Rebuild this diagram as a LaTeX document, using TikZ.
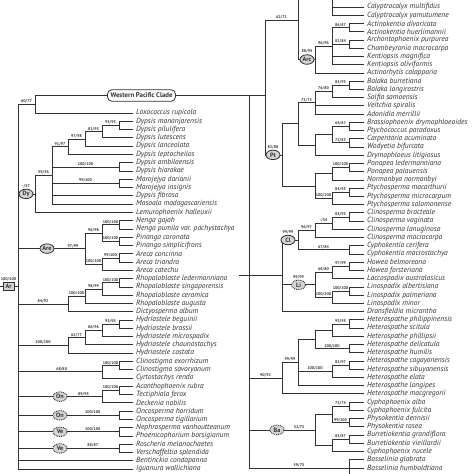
\documentclass[tikz,border=0pt]{standalone}
\usepackage{fontspec}
\setmainfont{PT Sans}
\usepackage{xcolor}
\usepackage{tikz}
\usetikzlibrary{shapes.geometric}
\definecolor{treegray}{RGB}{50,50,50}
\definecolor{cladegray}{RGB}{212,212,212}

\begin{document}
\begin{tikzpicture}[
    x=1pt, y=-1pt,
    branch/.style={draw=treegray, line width=0.8pt},
    taxon/.style={anchor=west, inner xsep=3pt, inner ysep=0.5pt, text=treegray,
                  font=\fontsize{7.5}{8}\selectfont\itshape},
    bs/.style={anchor=south, inner sep=0.6pt, text=treegray,
               font=\fontsize{4}{4}\selectfont\bfseries},
    clade/.style={ellipse, draw=treegray, fill=cladegray, line width=0.8pt,
                  inner sep=0.4pt, minimum width=14pt, minimum height=9.5pt,
                  text=treegray, font=\fontsize{6.2}{6}\selectfont\bfseries},
    cladedot/.style={clade, densely dotted, line width=1pt},
    arbox/.style={rectangle, draw=treegray, fill=cladegray, line width=0.8pt,
                  inner sep=1pt, minimum width=11pt, minimum height=8pt,
                  text=treegray, font=\fontsize{6.2}{6}\selectfont\bfseries},
    grouplbl/.style={rectangle, rounded corners=4.5pt, draw=treegray, fill=white,
                  line width=0.8pt, minimum height=10pt, inner xsep=3pt,
                  text=treegray, font=\fontsize{6.8}{7}\selectfont\bfseries}
]
\useasboundingbox (0,0) rectangle (474,474);
\clip (0,0) rectangle (474,474);
\fill[white] (0,0) rectangle (474,474);

% ---- left panel: taxa
\node[taxon] (loxo)   at (133,113.0) {Loxococcus rupicola};
\node[taxon] (dmana)  at (133,121.3) {Dypsis mananjarensis};
\node[taxon] (dpilu)  at (133,129.6) {Dypsis pilulifera};
\node[taxon] (dlute)  at (133,137.8) {Dypsis lutescens};
\node[taxon] (dlanc)  at (133,146.1) {Dypsis lanceolata};
\node[taxon] (dlept)  at (133,154.4) {Dypsis leptocheilos};
\node[taxon] (dambi)  at (133,162.7) {Dypsis ambilaensis};
\node[taxon] (dhiar)  at (133,171.0) {Dypsis hiarakae};
\node[taxon] (mdari)  at (133,179.2) {Marojejya darianii};
\node[taxon] (minsi)  at (133,187.5) {Marojejya insignis};
\node[taxon] (dfibr)  at (133,195.8) {Dypsis fibrosa};
\node[taxon] (masoa)  at (133,204.1) {Masoala madagascariensis};
\node[taxon] (lemur)  at (133,212.4) {Lemurophoenix halleuxii};
\node[taxon] (ngaja)  at (133,220.6) {Nenga gajah};
\node[taxon] (npumi)  at (133,228.9) {Nenga pumila var. pachystachya};
\node[taxon] (pcoro)  at (133,237.2) {Pinanga coronata};
\node[taxon] (psimp)  at (133,245.5) {Pinanga simplicifrons};
\node[taxon] (aconc)  at (133,253.8) {Areca concinna};
\node[taxon] (atria)  at (133,262.0) {Areca triandra};
\node[taxon] (acate)  at (133,270.3) {Areca catechu};
\node[taxon] (rlede)  at (133,278.6) {Rhopaloblaste ledermanniana};
\node[taxon] (rsing)  at (133,286.9) {Rhopaloblaste singaporensis};
\node[taxon] (rcera)  at (133,295.2) {Rhopaloblaste ceramica};
\node[taxon] (rangu)  at (133,303.4) {Rhopaloblaste augusta};
\node[taxon] (dictyo) at (133,311.7) {Dictyosperma album};
\node[taxon] (hbegu)  at (133,320.0) {Hydriastele beguinii};
\node[taxon] (hbras)  at (133,328.3) {Hydriastele brassii};
\node[taxon] (hmicr)  at (133,336.6) {Hydriastele microspadix};
\node[taxon] (hchau)  at (133,344.8) {Hydriastele chaunostachys};
\node[taxon] (hcost)  at (133,353.1) {Hydriastele costata};
\node[taxon] (cexor)  at (133,361.4) {Clinostigma exorrhizum};
\node[taxon] (csavo)  at (133,369.7) {Clinostigma savoryanum};
\node[taxon] (cyrto)  at (133,378.0) {Cyrtostachys renda};
\node[taxon] (acant)  at (133,386.2) {Acanthophoenix rubra};
\node[taxon] (tecti)  at (133,394.5) {Tectiphiala ferox};
\node[taxon] (decke)  at (133,402.8) {Deckenia nobilis};
\node[taxon] (ohorr)  at (133,411.1) {Oncosperma horridum};
\node[taxon] (otigi)  at (133,419.4) {Oncosperma tigillarium};
\node[taxon] (nephr)  at (133,427.6) {Nephrosperma vanhoutteanum};
\node[taxon] (phoen)  at (133,435.9) {Phoenicophorium borsigianum};
\node[taxon] (rosch)  at (133,444.2) {Roscheria melanochaetes};
\node[taxon] (versc)  at (133,452.5) {Verschaffeltia splendida};
\node[taxon] (benti)  at (133,460.8) {Bentinckia condapanna};
\node[taxon] (iguan)  at (133,469.0) {Iguanura wallichiana};

% ---- left panel: internal nodes
\coordinate (arstem) at (0,286.6);
\coordinate (root) at (18,286.6);
\coordinate (wpc)  at (35,104.3);
\coordinate (dy1) at (119,125.4);
\coordinate (dy2) at (102,131.6);
\coordinate (dy3) at (85,138.9);
\coordinate (dy4) at (68,146.6);
\coordinate (dy5) at (119,166.9);
\coordinate (dy6) at (119,183.4);
\coordinate (dy7) at (52,175.4);
\coordinate (dy)  at (35,193.9);
\coordinate (ar1) at (119,224.8);
\coordinate (ar2) at (119,241.4);
\coordinate (ar3) at (102,233.1);
\coordinate (ar4) at (119,257.9);
\coordinate (ar5) at (102,264.1);
\coordinate (are) at (85,248.6);
\coordinate (rh1) at (119,282.8);
\coordinate (rh2) at (102,289.0);
\coordinate (rh3) at (85,296.2);
\coordinate (rh4) at (68,304.0);
\coordinate (hy1) at (119,324.2);
\coordinate (hy2) at (102,330.4);
\coordinate (hy3) at (85,337.6);
\coordinate (hy4) at (68,345.4);
\coordinate (cs1) at (119,365.6);
\coordinate (cs2) at (102,371.8);
\coordinate (on1) at (119,390.4);
\coordinate (on2) at (102,396.6);
\coordinate (on3) at (119,415.3);
\coordinate (ve1) at (119,431.8);
\coordinate (ve2) at (119,448.4);

% ---- right panel: taxa
\coordinate (r0) at (364,-1.2);
\node[taxon] (cmult)  at (364,7.0)   {Calyptrocalyx multifidus};
\node[taxon] (cyamu)  at (364,15.3)  {Calyptrocalyx yamutumene};
\node[taxon] (adiva)  at (364,23.5)  {Actinokentia divaricata};
\node[taxon] (ahuer)  at (364,31.7)  {Actinokentia huerlimannii};
\node[taxon] (apurp)  at (364,39.9)  {Archontophoenix purpurea};
\node[taxon] (cmacr)  at (364,48.2)  {Chambeyronia macrocarpa};
\node[taxon] (kmagn)  at (364,56.4)  {Kentiopsis magnifica};
\node[taxon] (kolivi) at (364,64.6)  {Kentiopsis oliviformis};
\node[taxon] (acala)  at (364,72.9)  {Actinorhytis calapparia};
\node[taxon] (bburr)  at (364,81.1)  {Balaka burretiana};
\node[taxon] (blong)  at (364,89.3)  {Balaka longirostris};
\node[taxon] (ssamo)  at (364,97.6)  {Solfia samoensis};
\node[taxon] (vspir)  at (364,105.8) {Veitchia spiralis};
\node[taxon] (amerr)  at (364,114.0) {Adonidia merrillii};
\node[taxon] (bdrym)  at (364,122.3) {Brassiophoenix drymophloeoides};
\node[taxon] (ppara)  at (364,130.5) {Ptychococcus paradoxus};
\node[taxon] (cacum)  at (364,138.7) {Carpentaria acuminata};
\node[taxon] (wbifu)  at (364,146.9) {Wodyetia bifurcata};
\node[taxon] (dliti)  at (364,155.2) {Drymophloeus litigiosus};
\node[taxon] (plede)  at (364,163.4) {Ponapea ledermanniana};
\node[taxon] (ppala)  at (364,171.6) {Ponapea palauensis};
\node[taxon] (nnorm)  at (364,179.9) {Normanbya normanbyi};
\node[taxon] (pmaca)  at (364,188.1) {Ptychosperma macarthurii};
\node[taxon] (pmicr)  at (364,196.3) {Ptychosperma microcarpum};
\node[taxon] (psalo)  at (364,204.5) {Ptychosperma salomonense};
\node[taxon] (cbrac)  at (364,212.8) {Clinosperma bracteale};
\node[taxon] (cvagi)  at (364,221.0) {Clinosperma vaginata};
\node[taxon] (clanu)  at (364,229.2) {Clinosperma lanuginosa};
\node[taxon] (cmacro) at (364,237.5) {Clinosperma macrocarpa};
\node[taxon] (cceri)  at (364,245.7) {Cyphokentia cerifera};
\node[taxon] (cmacs)  at (364,253.9) {Cyphokentia macrostachya};
\node[taxon] (hbelm)  at (364,262.2) {Howea belmoreana};
\node[taxon] (hfors)  at (364,270.4) {Howea forsteriana};
\node[taxon] (laust)  at (364,278.6) {Laccospadix australasicus};
\node[taxon] (lalbe)  at (364,286.9) {Linospadix albertisiana};
\node[taxon] (lpalm)  at (364,295.1) {Linospadix palmeriana};
\node[taxon] (lmino)  at (364,303.3) {Linospadix minor};
\node[taxon] (dmicr)  at (364,311.5) {Dransfieldia micrantha};
\node[taxon] (hphip)  at (364,319.8) {Heterospathe philippinensis};
\node[taxon] (hscit)  at (364,328.0) {Heterospathe scitula};
\node[taxon] (hphil)  at (364,336.2) {Heterospathe phillipsii};
\node[taxon] (hdeli)  at (364,344.5) {Heterospathe delicatula};
\node[taxon] (hhumi)  at (364,352.7) {Heterospathe humilis};
\node[taxon] (hcaga)  at (364,360.9) {Heterospathe cagayanensis};
\node[taxon] (hsibu)  at (364,369.2) {Heterospathe sibuyanensis};
\node[taxon] (helat)  at (364,377.4) {Heterospathe elata};
\node[taxon] (hlong)  at (364,385.6) {Heterospathe longipes};
\node[taxon] (hmacg)  at (364,393.8) {Heterospathe macgregorii};
\node[taxon] (calba)  at (364,402.1) {Cyphophoenix alba};
\node[taxon] (cfulc)  at (364,410.3) {Cyphophoenix fulcita};
\node[taxon] (pdenn)  at (364,418.5) {Physokentia dennisii};
\node[taxon] (prose)  at (364,426.8) {Physokentia rosea};
\node[taxon] (bgran)  at (364,435.0) {Burretiokentia grandiflora};
\node[taxon] (bviei)  at (364,443.2) {Burretiokentia vieillardii};
\node[taxon] (cnuce)  at (364,451.5) {Cyphophoenix nucele};
\node[taxon] (bglab)  at (364,459.7) {Basselinia glabrata};
\node[taxon] (bhumb)  at (364,467.9) {Basselinia humboldtiana};
\coordinate (r58) at (364,476.1);

% ---- right panel: internal nodes
\coordinate (wpstub) at (239,275.8);
\coordinate (wproot) at (249,275.8);
\coordinate (n265) at (265,95.5);
\coordinate (n62)  at (298,20.0);
\coordinate (n62top) at (315,-20);
\coordinate (calyp) at (332,-12);
\coordinate (ak1) at (349,27.6);
\coordinate (ak2) at (349,44.1);
\coordinate (ak3) at (332,46.1);
\coordinate (arc) at (315,59.5);
\coordinate (pb1) at (349,85.2);
\coordinate (pb2) at (332,91.4);
\coordinate (pb3) at (315,102.7);
\coordinate (pb4) at (349,126.4);
\coordinate (pb5) at (349,142.8);
\coordinate (pb6) at (332,134.6);
\coordinate (pb7) at (315,144.9);
\coordinate (pb8) at (298,123.8);
\coordinate (pb9) at (349,167.5);
\coordinate (pb10) at (332,173.7);
\coordinate (pb11) at (349,192.2);
\coordinate (pb12) at (332,198.4);
\coordinate (pb13) at (315,186.0);
\coordinate (pt)  at (282,154.9);
\coordinate (cl1) at (349,216.9);
\coordinate (cl2) at (332,223.0);
\coordinate (cl3) at (315,230.3);
\coordinate (cl4) at (349,249.8);
\coordinate (cl)  at (298,240.0);
\coordinate (li1) at (349,266.3);
\coordinate (li2) at (332,272.4);
\coordinate (li3) at (349,291.0);
\coordinate (li4) at (332,297.2);
\coordinate (li)  at (315,284.8);
\coordinate (n282) at (282,275.8);
\coordinate (he1) at (349,323.9);
\coordinate (he2) at (332,330.0);
\coordinate (he3) at (349,348.6);
\coordinate (he4) at (315,339.3);
\coordinate (he5) at (349,365.0);
\coordinate (he6) at (332,371.2);
\coordinate (he7) at (298,362.4);
\coordinate (he8) at (282,378.1);
\coordinate (ba1) at (349,406.2);
\coordinate (ba2) at (349,422.6);
\coordinate (ba3) at (332,414.4);
\coordinate (ba4) at (349,439.1);
\coordinate (ba5) at (332,445.3);
\coordinate (ba)  at (315,429.9);
\coordinate (bsl) at (349,467.9);

% ---- left panel: branches
\draw[branch] (arstem) -- (root);
\draw[branch] (root) |- node[bs,pos=.75] (s1) {60/77} (wpc);
\draw[branch] (wpc) |- (n265) (wpc) |- (loxo);
\draw[branch] (root) |- (dy);
\draw[branch] (dy) |- node[bs,pos=.75] (s2) {59/56} (dy7) (dy) |- (lemur);
\draw[branch] (dy7) |- node[bs,pos=.75] (s3) {91/97} (dy4)
              (dy7) |- node[bs,pos=.75] (s4) {100/100} (dy5)
              (dy7) |- node[bs,pos=.75] (s5) {99/100} (dy6)
              (dy7) |- (dfibr) (dy7) |- (masoa);
\draw[branch] (dy4) |- node[bs,pos=.75] (s6) {97/98} (dy3) (dy4) |- (dlept);
\draw[branch] (dy3) |- node[bs,pos=.75] (s7) {81/95} (dy2) (dy3) |- (dlanc);
\draw[branch] (dy2) |- node[bs,pos=.75] (s8) {93/95} (dy1) (dy2) |- (dlute);
\draw[branch] (dy1) |- (dmana) (dy1) |- (dpilu);
\draw[branch] (dy5) |- (dambi) (dy5) |- (dhiar);
\draw[branch] (dy6) |- (mdari) (dy6) |- (minsi);

\draw[branch] (root) |- node[bs,pos=.91] (s9) {97/99} (are);
\draw[branch] (are) |- node[bs,pos=.75] (s10) {96/98} (ar3)
              (are) |- node[bs,pos=.75] (s11) {100/100} (ar5);
\draw[branch] (ar3) |- node[bs,pos=.75] (s12) {100/100} (ar1)
              (ar3) |- node[bs,pos=.75] (s13) {100/100} (ar2);
\draw[branch] (ar1) |- (ngaja) (ar1) |- (npumi) (ar2) |- (pcoro) (ar2) |- (psimp);
\draw[branch] (ar5) |- node[bs,pos=.75] (s14) {99/100} (ar4) (ar5) |- (acate);
\draw[branch] (ar4) |- (aconc) (ar4) |- (atria);

\draw[branch] (root) |- node[bs,pos=.75] (s15) {84/92} (rh4);
\draw[branch] (rh4) |- node[bs,pos=.75] (s16) {100/100} (rh3) (rh4) |- (dictyo);
\draw[branch] (rh3) |- node[bs,pos=.75] (s17) {98/99} (rh2) (rh3) |- (rangu);
\draw[branch] (rh2) |- node[bs,pos=.75] (s18) {100/100} (rh1) (rh2) |- (rcera);
\draw[branch] (rh1) |- (rlede) (rh1) |- (rsing);

\draw[branch] (root) |- node[bs,pos=.75] (s19) {100/100} (hy4);
\draw[branch] (hy4) |- node[bs,pos=.75] (s20) {62/77} (hy3) (hy4) |- (hcost);
\draw[branch] (hy3) |- node[bs,pos=.75] (s21) {86/96} (hy2) (hy3) |- (hchau);
\draw[branch] (hy2) |- node[bs,pos=.75] (s22) {93/95} (hy1) (hy2) |- (hmicr);
\draw[branch] (hy1) |- (hbegu) (hy1) |- (hbras);

\draw[branch] (root) |- node[bs,pos=.76] (s23) {68/80} (cs2);
\draw[branch] (cs2) |- node[bs,pos=.75] (s24) {100/100} (cs1) (cs2) |- (cyrto);
\draw[branch] (cs1) |- (cexor) (cs1) |- (csavo);

\draw[branch] (root) |- node[bs,pos=.89] (s25) {89/95} (on2);
\draw[branch] (on2) |- node[bs,pos=.75] (s26) {100/100} (on1) (on2) |- (decke);
\draw[branch] (on1) |- (acant) (on1) |- (tecti);
\draw[branch] (root) |- node[bs,pos=.87] (s27) {100/100} (on3);
\draw[branch] (on3) |- (ohorr) (on3) |- (otigi);
\draw[branch] (root) |- node[bs,pos=.87] (s28) {100/100} (ve1);
\draw[branch] (ve1) |- (nephr) (ve1) |- (phoen);
\draw[branch] (root) |- node[bs,pos=.87] (s29) {88/87} (ve2);
\draw[branch] (ve2) |- (rosch) (ve2) |- (versc);
\draw[branch] (root) |- (benti) (root) |- (iguan);

% ---- right panel: branches
\draw[branch] (wpstub) -- (wproot);
\draw[branch] (wproot) |- (n265) (wproot) |- (n282)
              (wproot) |- node[bs,pos=.75] (s40) {90/92} (he8)
              (wproot) |- node[bs,pos=.88] (s41) {52/75} (ba)
              (wproot) |- node[bs,pos=.75] (s42) {59/75} (bsl);
\draw[branch] (n265) |- node[bs,pos=.75] (s43) {62/71} (n62) (n265) |- (pt);
\draw[branch] (n62) |- (n62top) (n62) |- (arc);
\draw[branch] (calyp) |- (r0) (calyp) |- (cmult) (calyp) |- (cyamu);

\draw[branch] (arc) |- node[bs,pos=.75] (s44) {96/96} (ak3) (arc) |- (acala);
\draw[branch] (ak3) |- node[bs,pos=.75] (s45) {86/87} (ak1)
              (ak3) |- node[bs,pos=.75] (s46) {81/84} (ak2)
              (ak3) |- (kmagn) (ak3) |- (kolivi);
\draw[branch] (ak1) |- (adiva) (ak1) |- (ahuer) (ak2) |- (apurp) (ak2) |- (cmacr);

\draw[branch] (pt) |- (pb8) (pt) |- (pb13);
\draw[branch] (pb8) |- node[bs,pos=.75] (s47) {72/73} (pb3) (pb8) |- (pb7);
\draw[branch] (pb3) |- node[bs,pos=.75] (s48) {76/80} (pb2) (pb3) |- (vspir) (pb3) |- (amerr);
\draw[branch] (pb2) |- node[bs,pos=.75] (s49) {83/93} (pb1) (pb2) |- (ssamo);
\draw[branch] (pb1) |- (bburr) (pb1) |- (blong);
\draw[branch] (pb7) |- (pb6) (pb7) |- (dliti);
\draw[branch] (pb6) |- node[bs,pos=.75] (s50) {64/67} (pb4)
              (pb6) |- node[bs,pos=.75] (s51) {72/83} (pb5);
\draw[branch] (pb4) |- (bdrym) (pb4) |- (ppara);
\draw[branch] (pb5) |- (cacum) (pb5) |- (wbifu);
\draw[branch] (pb13) |- (pb10) (pb13) |- node[bs,pos=.75] (s52) {100/100} (pb12);
\draw[branch] (pb10) |- node[bs,pos=.75] (s53) {100/100} (pb9) (pb10) |- (nnorm);
\draw[branch] (pb9) |- (plede) (pb9) |- (ppala);
\draw[branch] (pb12) |- node[bs,pos=.75] (s54) {84/95} (pb11) (pb12) |- (psalo);
\draw[branch] (pb11) |- (pmaca) (pb11) |- (pmicr);

\draw[branch] (n282) |- (cl) (n282) |- (li) (n282) |- (dmicr);
\draw[branch] (cl) |- node[bs,pos=.75] (s60) {96/97} (cl3)
              (cl) |- node[bs,pos=.75] (s61) {67/84} (cl4);
\draw[branch] (cl3) |- node[bs,pos=.75] (s62) {-/54} (cl2) (cl3) |- (cmacro);
\draw[branch] (cl2) |- node[bs,pos=.75] (s63) {83/93} (cl1) (cl2) |- (clanu);
\draw[branch] (cl1) |- (cbrac) (cl1) |- (cvagi);
\draw[branch] (cl4) |- (cceri) (cl4) |- (cmacs);
\draw[branch] (li) |- node[bs,pos=.75] (s64) {68/80} (li2)
              (li) |- node[bs,pos=.75] (s65) {100/100} (li4);
\draw[branch] (li2) |- node[bs,pos=.75] (s66) {97/99} (li1) (li2) |- (laust);
\draw[branch] (li1) |- (hbelm) (li1) |- (hfors);
\draw[branch] (li4) |- node[bs,pos=.75] (s67) {100/100} (li3) (li4) |- (lmino);
\draw[branch] (li3) |- (lalbe) (li3) |- (lpalm);

\draw[branch] (he8) |- node[bs,pos=.75] (s68) {99/99} (he7) (he8) |- (hmacg);
\draw[branch] (he7) |- (he4) (he7) |- node[bs,pos=.75] (s69) {100/100} (he6) (he7) |- (hlong);
\draw[branch] (he4) |- (he2) (he4) |- node[bs,pos=.75] (s70) {100/100} (he3);
\draw[branch] (he2) |- node[bs,pos=.75] (s71) {93/95} (he1) (he2) |- (hphil);
\draw[branch] (he1) |- (hphip) (he1) |- (hscit);
\draw[branch] (he3) |- (hdeli) (he3) |- (hhumi);
\draw[branch] (he6) |- node[bs,pos=.75] (s72) {82/97} (he5) (he6) |- (helat);
\draw[branch] (he5) |- (hcaga) (he5) |- (hsibu);

\draw[branch] (ba) |- (ba3) (ba) |- (ba5);
\draw[branch] (ba3) |- node[bs,pos=.75] (s73) {73/74} (ba1)
              (ba3) |- node[bs,pos=.75] (s74) {99/100} (ba2);
\draw[branch] (ba1) |- (calba) (ba1) |- (cfulc) (ba2) |- (pdenn) (ba2) |- (prose);
\draw[branch] (ba5) |- node[bs,pos=.75] (s75) {83/87} (ba4) (ba5) |- (cnuce);
\draw[branch] (ba4) |- (bgran) (ba4) |- (bviei);
\draw[branch] (bsl) |- (bglab) (bsl) |- (bhumb) (bsl) |- (r58);

% ---- clade tags
\node[grouplbl] (wpclbl) at (141.5,95.5) {Western Pacific Clade};
\node[arbox] (tAr) at (8.5,286.6) {Ar};
\node[bs] (sAr) at (tAr.north) {100/100};
\node[clade] (tDy) at (26,193.9) {Dy};
\node[bs] (sDy) at (tDy.north) {-/57};
\node[clade] (tAre) at (47,248.6) {Are};
\node[cladedot] (tOn1) at (60,396.6) {On};
\node[cladedot] (tOn2) at (60,415.3) {On};
\node[cladedot] (tVe1) at (60,431.8) {Ve};
\node[cladedot] (tVe2) at (60,448.4) {Ve};
\node[clade] (tArc) at (307,59.5) {Arc};
\node[bs] (sArc) at (tArc.north) {88/94};
\node[clade] (tPt) at (273,154.9) {Pt};
\node[bs] (sPt) at (tPt.north) {82/88};
\node[clade] (tCl) at (288,240.0) {Cl};
\node[bs] (sCl) at (tCl.north) {99/99};
\node[cladedot] (tLi) at (298.5,284.8) {Li};
\node[bs] (sLi) at (tLi.north) {99/99};
\node[cladedot] (tBa) at (277,429.9) {Ba};
\end{tikzpicture}
\end{document}
